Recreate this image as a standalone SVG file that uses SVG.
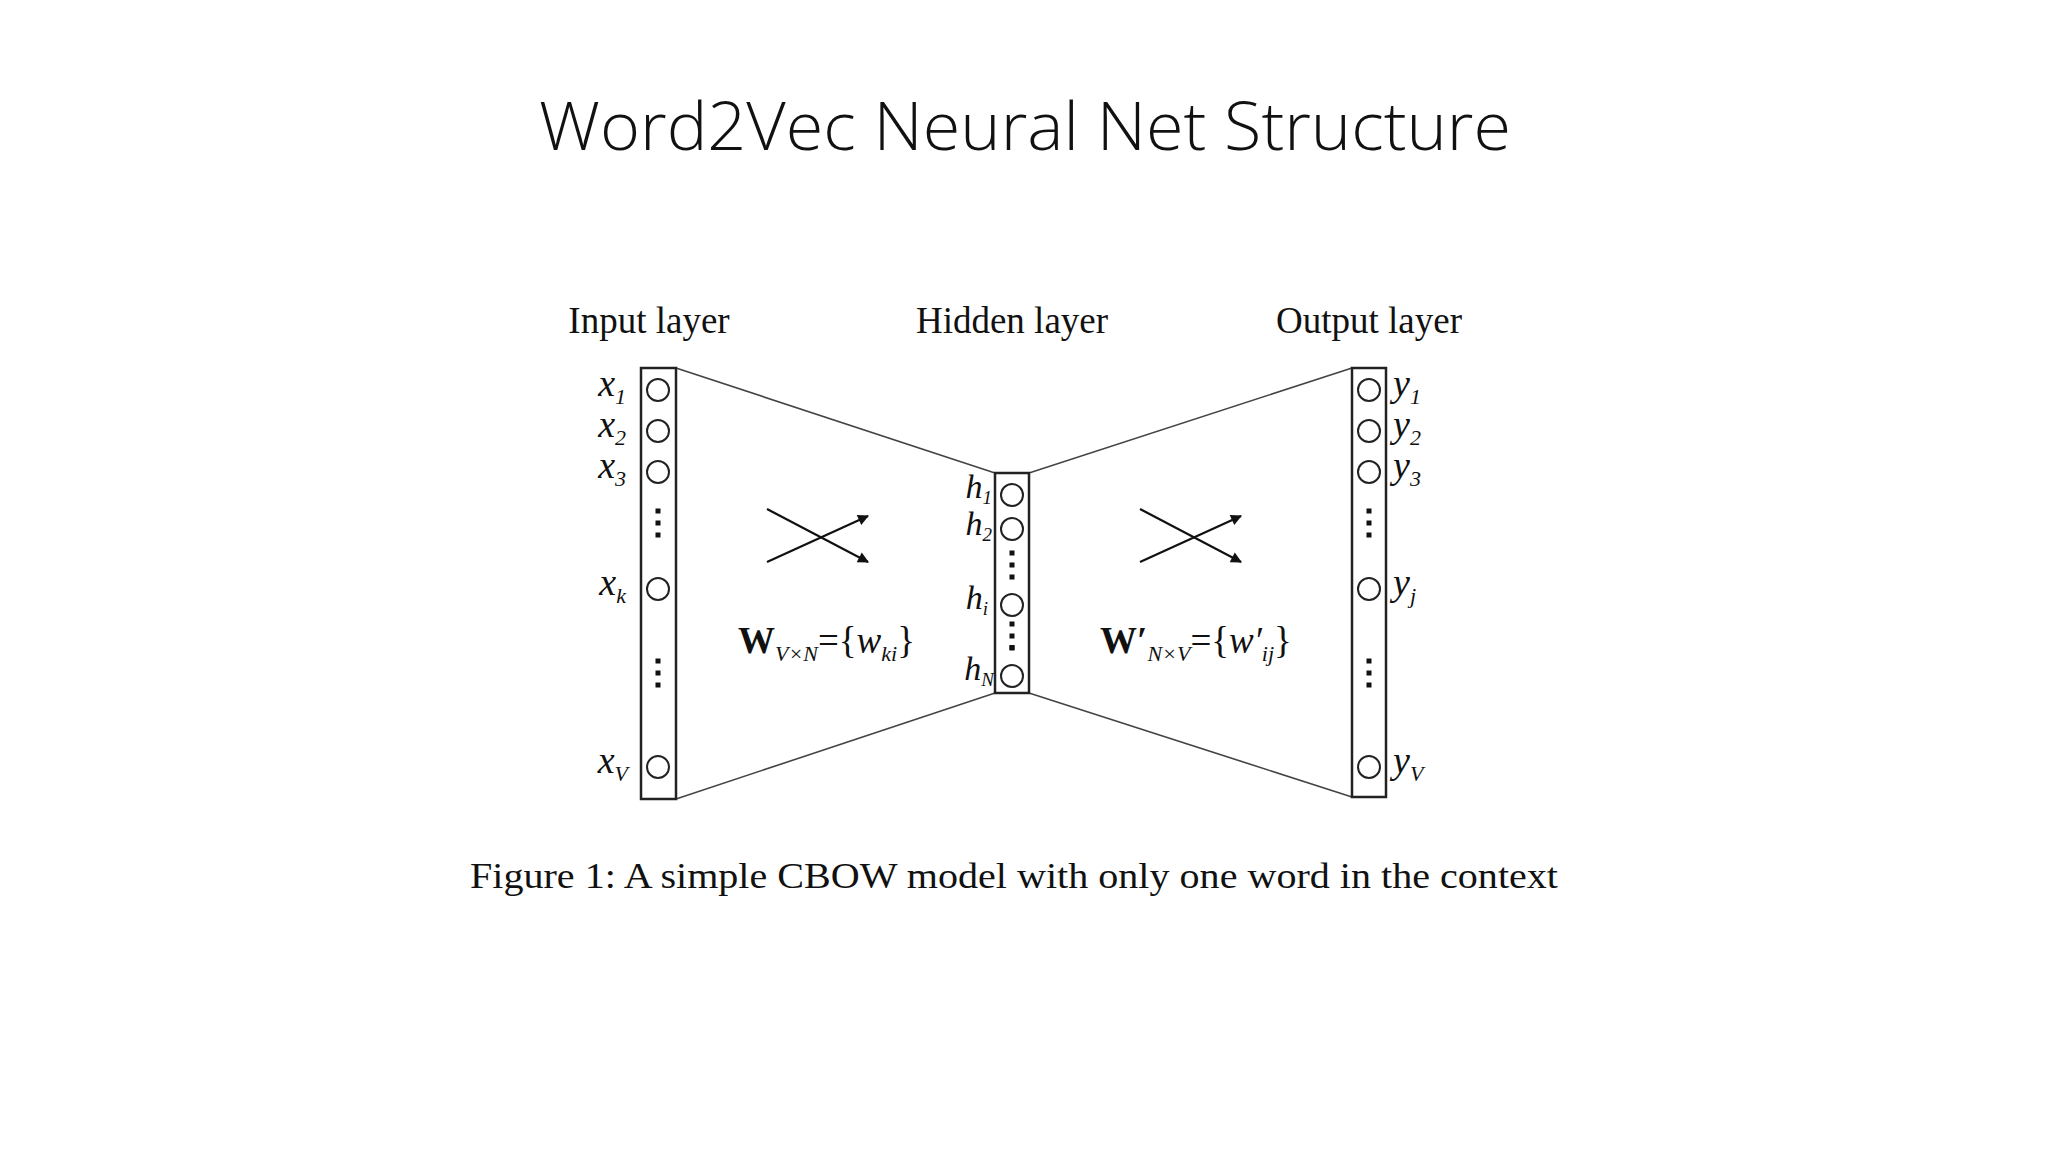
<svg xmlns="http://www.w3.org/2000/svg" width="2048" height="1152" viewBox="0 0 2048 1152">
<style>
.t{font-family:"Liberation Serif",serif;fill:#111}
.i{font-style:italic}
.n{fill:none;stroke:#222;stroke-width:2}
.box{fill:#fff;stroke:#222;stroke-width:2.5}
.l{stroke:#444;stroke-width:1.6;fill:none}
.a{stroke:#111;stroke-width:2.2;fill:none;marker-end:url(#ah)}
.d{fill:#111}
</style>
<defs>
<marker id="ah" viewBox="0 0 10 10" refX="9" refY="5" markerWidth="15" markerHeight="11" orient="auto" markerUnits="userSpaceOnUse"><path d="M0,0 L10,5 L0,10 z" fill="#111"/></marker>
<g id="dots"><rect x="-2.5" y="-2.5" width="5" height="5"/><rect x="-2.5" y="9.5" width="5" height="5"/><rect x="-2.5" y="21.5" width="5" height="5"/></g>
</defs>
<rect width="2048" height="1152" fill="#fff"/>
<text x="1025" y="150" text-anchor="middle" font-family="Open Sans, sans-serif" font-weight="300" font-size="66" fill="#111" textLength="972" lengthAdjust="spacingAndGlyphs">Word2Vec Neural Net Structure</text>
<g id="connectors">
<line class="l" x1="676" y1="368" x2="995" y2="473"/>
<line class="l" x1="676" y1="799" x2="995" y2="693"/>
<line class="l" x1="1029" y1="473" x2="1352" y2="368"/>
<line class="l" x1="1029" y1="693" x2="1352" y2="797"/>
<line class="a" x1="767" y1="562" x2="868" y2="516"/>
<line class="a" x1="767" y1="509" x2="868" y2="562"/>
<line class="a" x1="1140" y1="562" x2="1241" y2="516"/>
<line class="a" x1="1140" y1="509" x2="1241" y2="562"/>
</g>
<g id="input">
<text class="t" x="649" y="333" text-anchor="middle" font-size="37">Input layer</text>
<rect class="box" x="641" y="368" width="35" height="431"/>
<circle class="n" cx="658" cy="390" r="11"/><circle class="n" cx="658" cy="431" r="11"/><circle class="n" cx="658" cy="472" r="11"/><circle class="n" cx="658" cy="589" r="11"/><circle class="n" cx="658" cy="767" r="11"/>
<use href="#dots" x="658" y="511" class="d"/><use href="#dots" x="658" y="661" class="d"/>
<g class="t i" font-size="38" text-anchor="end">
<text x="626" y="396">x<tspan font-size="22" dy="8">1</tspan></text>
<text x="626" y="437">x<tspan font-size="22" dy="8">2</tspan></text>
<text x="626" y="478">x<tspan font-size="22" dy="8">3</tspan></text>
<text x="626" y="595">x<tspan font-size="22" dy="8">k</tspan></text>
<text x="628" y="773">x<tspan font-size="22" dy="8">V</tspan></text>
</g>
</g>
<g id="hidden">
<text class="t" x="1012" y="333" text-anchor="middle" font-size="37">Hidden layer</text>
<rect class="box" x="995" y="473" width="34" height="220"/>
<circle class="n" cx="1012" cy="495" r="11"/><circle class="n" cx="1012" cy="529" r="11"/><circle class="n" cx="1012" cy="605" r="11"/><circle class="n" cx="1012" cy="676" r="11"/>
<use href="#dots" x="1012" y="553" class="d"/><use href="#dots" x="1012" y="624" class="d"/><rect class="d" x="1009.5" y="645" width="5" height="5"/>
<g class="t i" font-size="34" text-anchor="end">
<text x="992" y="498">h<tspan font-size="19" dy="6">1</tspan></text>
<text x="992" y="535">h<tspan font-size="19" dy="6">2</tspan></text>
<text x="988" y="609">h<tspan font-size="19" dy="6">i</tspan></text>
<text x="994" y="680">h<tspan font-size="19" dy="6">N</tspan></text>
</g>
</g>
<g id="output">
<text class="t" x="1369" y="333" text-anchor="middle" font-size="37">Output layer</text>
<rect class="box" x="1352" y="368" width="34" height="429"/>
<circle class="n" cx="1369" cy="390" r="11"/><circle class="n" cx="1369" cy="431" r="11"/><circle class="n" cx="1369" cy="472" r="11"/><circle class="n" cx="1369" cy="589" r="11"/><circle class="n" cx="1369" cy="767" r="11"/>
<use href="#dots" x="1369" y="511" class="d"/><use href="#dots" x="1369" y="661" class="d"/>
<g class="t i" font-size="38">
<text x="1393" y="396">y<tspan font-size="22" dy="8">1</tspan></text>
<text x="1393" y="437">y<tspan font-size="22" dy="8">2</tspan></text>
<text x="1393" y="478">y<tspan font-size="22" dy="8">3</tspan></text>
<text x="1393" y="595">y<tspan font-size="22" dy="8">j</tspan></text>
<text x="1393" y="773">y<tspan font-size="22" dy="8">V</tspan></text>
</g>
</g>
<g id="weights" class="t" font-size="37">
<text x="738" y="653"><tspan font-weight="bold">W</tspan><tspan class="i" font-size="22" dy="8">V×N</tspan><tspan dy="-8">={</tspan><tspan class="i">w</tspan><tspan class="i" font-size="22" dy="8">ki</tspan><tspan dy="-8">}</tspan></text>
<text x="1100" y="653"><tspan font-weight="bold">W′</tspan><tspan class="i" font-size="22" dy="8">N×V</tspan><tspan dy="-8">={</tspan><tspan class="i">w′</tspan><tspan class="i" font-size="22" dy="8">ij</tspan><tspan dy="-8">}</tspan></text>
</g>
<text class="t" x="470" y="888" font-size="36" textLength="1088" lengthAdjust="spacingAndGlyphs">Figure 1: A simple CBOW model with only one word in the context</text>
</svg>
